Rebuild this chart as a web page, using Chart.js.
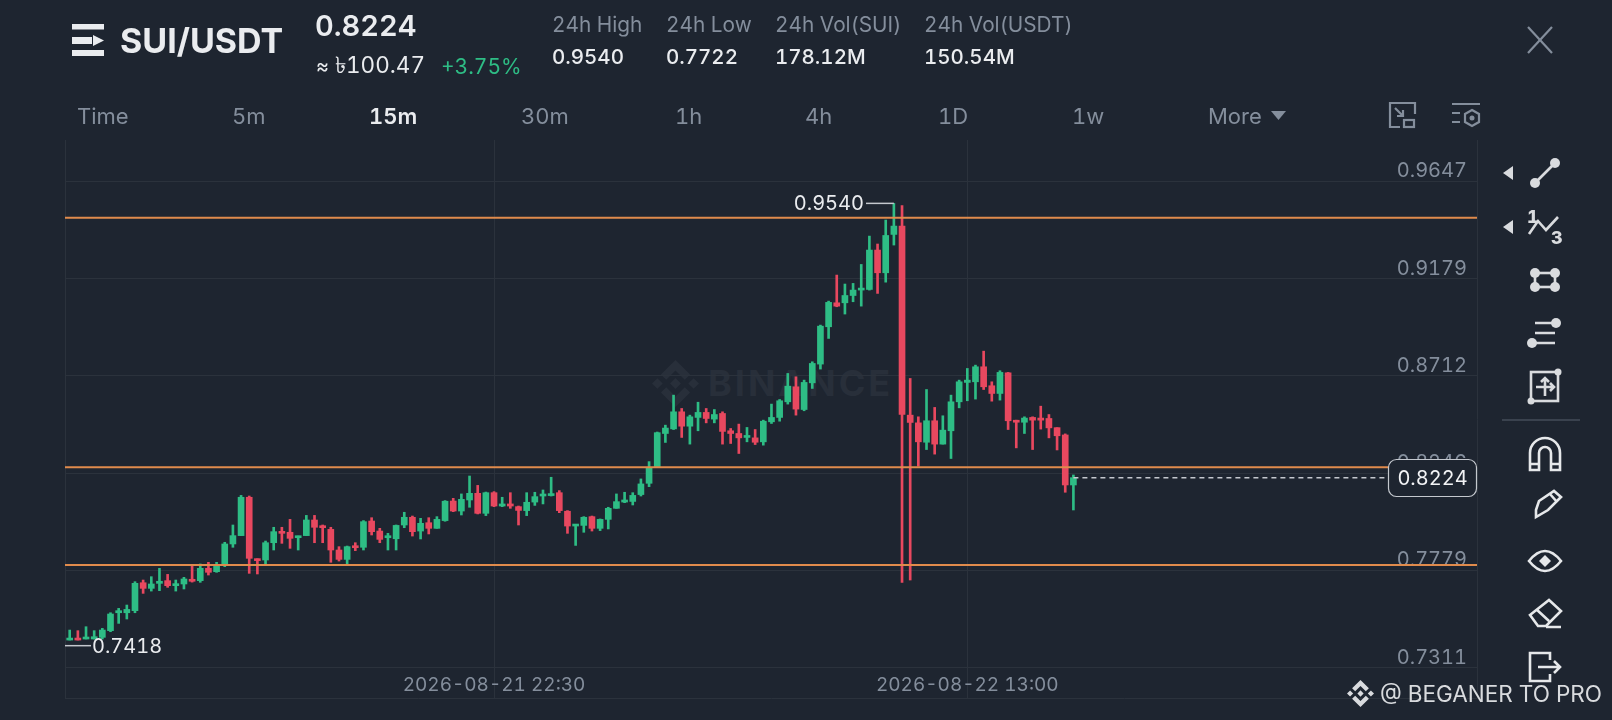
<!DOCTYPE html>
<html>
<head>
<meta charset="utf-8">
<title>SUI/USDT</title>
<script src="https://cdn.jsdelivr.net/npm/chart.js@4"></script>
<style>
  html, body { margin: 0; padding: 0; background: #1e2530; }
  body { width: 1612px; height: 720px; overflow: hidden; position: relative; font-family: Inter, "Noto Sans", "DejaVu Sans", sans-serif; font-variant-numeric: tabular-nums; }
  canvas { position: absolute; left: 0; top: 0; }
  .t { position: absolute; white-space: nowrap; line-height: 1; transform: translateY(-50%); }
  .gray { color: #848e9c; font-size: 20.8px; }
  .tab { color: #848e9c; font-size: 22px; }
  .white { color: #eaecef; font-size: 20.5px; font-weight: 500; }
  svg.layer { position: absolute; left: 0; top: 0; pointer-events: none; }
</style>
</head>
<body>
<svg class="layer" width="1612" height="720">
  <symbol id="bnb" viewBox="0 0 126 126">
    <path d="M38.2 53 63 28.2 87.8 53l14.4-14.4L63 0 23.8 38.6zM0 63l14.4-14.4L28.8 63 14.4 77.4zM38.2 73 63 97.8 87.8 73l14.4 14.4L63 126 23.8 87.4zM97.2 63l14.4-14.4L126 63l-14.4 14.4zM77.6 63 63 48.4 52.2 59.2 50.9 60.5 48.4 63 63 77.6z"/>
  </symbol>
  <use href="#bnb" x="652" y="360" width="47" height="47" fill="#282f3a"/>
  <text x="708" y="396" font-family="Inter" font-weight="700" font-size="36" letter-spacing="3" fill="#282f3a">BINANCE</text>
</svg>

<canvas id="myChart" width="1612" height="720"></canvas>

<div class="t" style="left:120px;top:41px;font-size:34px;font-weight:700;color:#eaecef">SUI/USDT</div>
<div class="t" style="left:315px;top:25px;font-size:29px;font-weight:600;color:#eaecef">0.8224</div>
<div class="t" style="left:316px;top:65px;font-size:22.5px;color:#eaecef"><span style="font-size:20px">≈</span> ৳100.47</div>
<div class="t" style="left:441px;top:66px;font-size:21px;color:#2ebd85">+3.75%</div>

<div class="t gray" style="left:552px;top:25px">24h High</div>
<div class="t gray" style="left:666px;top:25px">24h Low</div>
<div class="t gray" style="left:775px;top:25px">24h Vol(SUI)</div>
<div class="t gray" style="left:924px;top:25px">24h Vol(USDT)</div>
<div class="t white" style="left:552px;top:57px">0.9540</div>
<div class="t white" style="left:666px;top:57px">0.7722</div>
<div class="t white" style="left:775px;top:57px">178.12M</div>
<div class="t white" style="left:924px;top:57px">150.54M</div>

<div class="t tab" style="left:77px;top:116px">Time</div>
<div class="t tab" style="left:232px;top:116px">5m</div>
<div class="t" style="left:369px;top:116px;font-size:22px;font-weight:600;color:#eaecef">15m</div>
<div class="t tab" style="left:521px;top:116px">30m</div>
<div class="t tab" style="left:675px;top:116px">1h</div>
<div class="t tab" style="left:805px;top:116px">4h</div>
<div class="t tab" style="left:938px;top:116px">1D</div>
<div class="t tab" style="left:1072px;top:116px">1w</div>
<div class="t tab" style="left:1208px;top:116px">More</div>

<div class="t" style="left:1380px;top:694px;font-size:22.5px;color:#d9dbde">@ BEGANER TO PRO</div>

<svg class="layer" width="1612" height="720">
  <g fill="#eaecef">
    <rect x="72" y="24" width="32" height="5.5"/>
    <rect x="72" y="37" width="20" height="7"/>
    <path d="M93 35 L104 40.5 L93 46 Z"/>
    <rect x="72" y="50" width="32" height="6"/>
  </g>
  <path d="M1271 111 H1286 L1278.5 120 Z" fill="#848e9c"/>
  <g fill="none" stroke="#848e9c" stroke-width="2.2">
    <path d="M1528 27 L1552 53"/><path d="M1552 27 L1528 53"/>
    <path d="M1400 127 H1390 V103 H1415 V114"/>
    <rect x="1404" y="120" width="10" height="7"/>
    <path d="M1395 108 L1403 116 M1403 110 V116 H1397"/>
    <path d="M1452 104 H1480 M1452 113 H1460 M1452 122 H1460"/>
    <path d="M1472 110 L1479 114 V122 L1472 126 L1465 122 V114 Z"/>
  </g>
  <circle cx="1472" cy="118" r="2.5" fill="#848e9c"/>
  <g fill="#d9dbde">
    <path d="M1513 166 V180 L1503 173 Z"/>
    <path d="M1513 220 V234 L1503 227 Z"/>
  </g>
  <g fill="none" stroke="#d9dbde" stroke-width="2.6">
    <path d="M1535 183 L1555 163"/>
    <path d="M1529 234 L1538 221 L1546 230 L1558 217"/>
    <rect x="1535" y="273" width="20" height="14"/>
    <path d="M1535 323 H1556 M1535 333 H1555 M1533 343 H1555"/>
    <rect x="1531" y="372" width="27" height="29"/>
    <path d="M1545 378 V396 M1536 387 H1554 M1541 382 L1545 378 L1549 382 M1550 383 L1554 387 L1550 391"/>
  </g>
  <g fill="#d9dbde">
    <circle cx="1535" cy="183" r="5"/><circle cx="1555" cy="163" r="5"/>
    <circle cx="1535" cy="273" r="5"/><circle cx="1555" cy="273" r="5"/>
    <circle cx="1535" cy="287" r="5"/><circle cx="1555" cy="287" r="5"/>
    <circle cx="1556" cy="323" r="5"/><circle cx="1532" cy="343" r="5"/>
    <circle cx="1558" cy="372" r="3.5"/><circle cx="1531" cy="401" r="3.5"/>
  </g>
  <text x="1527" y="223" font-family="Inter" font-weight="800" font-size="18" fill="#d9dbde">1</text>
  <text x="1551" y="244" font-family="Inter" font-weight="800" font-size="18" fill="#d9dbde">3</text>

  <path d="M1502 420 H1580" stroke="#3a424e" stroke-width="2"/>
  <g fill="none" stroke="#e6e8ea" stroke-width="2.6">
    <path d="M1530 470 V453 a15 15 0 0 1 30 0 V470 H1551 V453 a6 6 0 0 0 -12 0 V470 Z M1530 464 H1539 M1551 464 H1560"/>
    <path d="M1536 510 L1539 501 L1554 491 L1561 497 L1548 510 L1536 517 Z M1550 494 L1557 502"/>
    <path d="M1529 561 Q1545 541 1561 561 Q1545 581 1529 561 Z"/>
    <path d="M1530 615 L1549 600 L1561 611 L1546 626 H1538 Z M1536 609 L1549 621 M1546 627 H1561"/>
    <path d="M1550 660 V653 H1530 V681 H1550 V674 M1538 667 H1560 M1554 661 L1560 667 L1554 673"/>
  </g>
  <path d="M1545 555 L1551 561 L1545 567 L1539 561 Z" fill="#e6e8ea"/>
  <use href="#bnb" x="1347" y="680" width="27" height="27" fill="#d9dbde"/>
</svg>

<script>
const colors = {
  green: "#2ebd85",
  red: "#e8485f",
  grid: "#2b323c",
  label: "#848e9c",
  orange: "#e08b4c",
  bg: "#1e2530",
};

// 15m candles
const opens = [
  .7445,.7451,.7450,.7450,.7458,.7490,.7576,.7576,.7586,.7720,.7693,.7717,.7730,.7706,.7714,.7736,.7730,.7789,.7773,.7810,
  .7906,.7946,.8130,.7832,.7829,.7912,.7962,.7962,.7936,.7946,.8021,.7992,.7976,.7877,.7832,.7896,.7890,.8016,.7968,.7936,
  .7931,.7997,.8034,.7968,.8008,.7981,.8018,.8112,.8064,.8117,.8149,.8053,.8152,.8088,.8098,.8085,.8066,.8107,.8136,.8138,
  .8152,.8063,.7992,.7995,.8037,.7981,.8024,.8077,.8107,.8110,.8143,.8197,.8277,.8436,.8458,.8540,.8471,.8513,.8537,.8505,
  .8532,.8449,.8436,.8417,.8415,.8396,.8492,.8513,.8588,.8660,.8551,.8679,.8769,.8948,.9063,.9063,.9098,.9124,.9127,.9316,
  .9207,.9391,.9431,.8524,.8487,.8394,.8497,.8385,.8449,.8588,.8681,.8684,.8756,.8665,.8628,.8727,.8497,.8490,.8513,.8510,
  .8508,.8464,.8429,.8189,
];
const highs = [
  .7493,.7490,.7509,.7490,.7501,.7576,.7597,.7613,.7725,.7733,.7749,.7789,.7760,.7733,.7746,.7800,.7810,.7818,.7818,.7914,
  .7997,.8139,.8136,.7835,.7920,.7986,.7986,.8024,.7944,.8043,.8043,.7997,.7986,.7893,.7896,.7912,.8018,.8032,.7981,.7957,
  .7997,.8058,.8040,.8029,.8032,.8037,.8114,.8125,.8146,.8232,.8187,.8155,.8157,.8130,.8152,.8088,.8152,.8154,.8165,.8226,
  .8162,.8066,.8000,.8037,.8040,.8026,.8082,.8146,.8154,.8152,.8218,.8301,.8443,.8476,.8620,.8556,.8524,.8586,.8556,.8551,
  .8540,.8460,.8481,.8465,.8455,.8500,.8577,.8599,.8724,.8708,.8692,.8780,.8956,.9071,.9196,.9153,.9156,.9247,.9383,.9345,
  .9460,.9540,.9529,.8700,.8516,.8647,.8561,.8521,.8620,.8692,.8748,.8764,.8831,.8684,.8737,.8729,.8500,.8516,.8516,.8567,
  .8527,.8464,.8434,.8237,
];
const lows = [
  .7445,.7445,.7450,.7450,.7450,.7485,.7525,.7546,.7576,.7669,.7680,.7682,.7698,.7680,.7690,.7723,.7722,.7757,.7770,.7797,
  .7890,.7946,.7765,.7762,.7805,.7877,.7909,.7885,.7877,.7946,.7912,.7912,.7818,.7824,.7810,.7874,.7877,.7949,.7912,.7877,
  .7877,.7984,.7944,.7930,.7954,.7981,.8015,.8061,.8045,.8082,.8050,.8042,.8085,.8085,.8077,.7997,.8042,.8091,.8098,.8136,
  .8056,.7957,.7899,.7962,.7968,.7970,.7978,.8077,.8104,.8093,.8136,.8181,.8274,.8393,.8455,.8417,.8385,.8449,.8487,.8487,
  .8385,.8388,.8340,.8396,.8383,.8380,.8484,.8495,.8577,.8524,.8545,.8652,.8745,.8892,.9044,.9009,.9068,.9047,.9124,.9108,
  .9162,.9340,.7722,.7733,.8279,.8359,.8337,.8385,.8316,.8559,.8593,.8601,.8647,.8591,.8596,.8455,.8367,.8436,.8359,.8457,
  .8415,.8357,.8154,.8069,
];
const closes = [
  .7453,.7445,.7458,.7461,.7493,.7570,.7586,.7592,.7717,.7693,.7714,.7727,.7706,.7714,.7738,.7727,.7789,.7770,.7800,.7906,
  .7946,.8130,.7837,.7826,.7912,.7965,.7957,.7933,.7943,.8021,.7986,.7984,.7877,.7832,.7893,.7888,.8013,.7965,.7928,.7944,
  .7995,.8034,.7965,.8005,.7981,.8024,.8111,.8064,.8120,.8149,.8053,.8152,.8088,.8098,.8088,.8067,.8106,.8133,.8144,.8146,
  .8066,.7992,.7999,.8034,.7981,.8024,.8077,.8109,.8117,.8139,.8194,.8269,.8440,.8462,.8540,.8471,.8516,.8537,.8508,.8527,
  .8446,.8436,.8415,.8426,.8394,.8495,.8513,.8593,.8663,.8553,.8681,.8772,.8951,.9065,.9047,.9098,.9124,.9132,.9316,.9207,
  .9386,.9431,.8528,.8489,.8396,.8497,.8385,.8452,.8588,.8684,.8692,.8756,.8660,.8628,.8729,.8497,.8490,.8510,.8500,.8500,
  .8463,.8425,.8189,.8224,
];

const yTicks = [0.7311, 0.7779, 0.8246, 0.8712, 0.9179, 0.9647];
const dateTicks = [52, 110];
const dateLabels = ["2026-08-21 22:30", "2026-08-22 13:00"];
const levels = [0.9471, 0.8274, 0.7805];
const lastPrice = 0.8224;
const peak = { index: 101, price: 0.954 };
const bottom = { price: 0.7418 };

const xMin = -0.576;
const xMax = 172.46;

const candleColor = opens.map((o, i) => (closes[i] >= o ? colors.green : colors.red));

const wicks = highs.map((h, i) => ({ x: i, y: [lows[i], h] }));
const bodies = opens.map((o, i) => ({ x: i, y: [o, closes[i]] }));

const levelSets = levels.map((v) => ({
  type: "line",
  data: [{ x: xMin, y: v }, { x: xMax, y: v }],
  borderColor: colors.orange,
  borderWidth: 2,
  pointRadius: 0,
  order: 0,
}));

// price tag, dashed line and the high / low notes
const notes = {
  id: "notes",
  afterDatasetsDraw(chart) {
    const { ctx, scales, chartArea } = chart;
    const x = scales.x, y = scales.y;
    ctx.save();
    ctx.font = "20px Inter";
    ctx.textBaseline = "middle";

    ctx.strokeStyle = "#c4c8ce";
    ctx.lineWidth = 1.5;
    const py = y.getPixelForValue(peak.price);
    ctx.beginPath();
    ctx.moveTo(866, py);
    ctx.lineTo(x.getPixelForValue(peak.index), py);
    ctx.stroke();
    ctx.fillStyle = "#eaecef";
    ctx.textAlign = "right";
    ctx.fillText(peak.price.toFixed(4), 864, py + 1);

    const by = y.getPixelForValue(bottom.price);
    ctx.beginPath();
    ctx.moveTo(chartArea.left, by);
    ctx.lineTo(91, by);
    ctx.stroke();
    ctx.textAlign = "left";
    ctx.fillText(bottom.price.toFixed(4), 92, by + 1);

    const ly = y.getPixelForValue(lastPrice);
    ctx.strokeStyle = "#c4c8ce";
    ctx.setLineDash([5, 4]);
    ctx.beginPath();
    ctx.moveTo(x.getPixelForValue(opens.length - 1), ly);
    ctx.lineTo(1386, ly);
    ctx.stroke();
    ctx.setLineDash([]);

    ctx.beginPath();
    ctx.roundRect(1388.5, 459.5, 88, 37, 8);
    ctx.fillStyle = colors.bg;
    ctx.fill();
    ctx.strokeStyle = "#c4c8ce";
    ctx.lineWidth = 1.2;
    ctx.stroke();
    ctx.fillStyle = "#f2f3f5";
    ctx.textAlign = "center";
    ctx.fillText(lastPrice.toFixed(4), 1432.5, ly + 1);
    ctx.restore();
  },
};

const ctx = document.getElementById("myChart");
new Chart(ctx, {
  type: "bar",
  data: {
    datasets: [
      ...levelSets,
      { data: bodies, backgroundColor: candleColor, barThickness: 6, minBarLength: 2, grouped: false, order: 1 },
      { data: wicks, backgroundColor: candleColor, barThickness: 2, grouped: false, order: 2 },
    ],
  },
  options: {
    responsive: false,
    animation: false,
    layout: { padding: { left: 65, right: 135, top: 140, bottom: 22 } },
    plugins: { legend: { display: false }, tooltip: { enabled: false } },
    scales: {
      x: {
        type: "linear",
        min: xMin,
        max: xMax,
        offset: false,
        afterFit(scale) { scale.height = 0; },
        afterBuildTicks(scale) {
          scale.ticks = [xMin, ...dateTicks].map((v) => ({ value: v }));
        },
        grid: { color: colors.grid, offset: false, drawTicks: false },
        border: { color: colors.grid },
        ticks: {
          mirror: true,
          padding: 1,
          maxRotation: 0,
          autoSkip: false,
          color: colors.label,
          font: { family: "Inter", size: 19 },
          callback(v) {
            const i = dateTicks.indexOf(v);
            return i < 0 ? "" : dateLabels[i];
          },
        },
      },
      y: {
        position: "right",
        min: 0.7167,
        max: 0.9844,
        afterFit(scale) { scale.width = 0; },
        afterBuildTicks(scale) {
          scale.ticks = yTicks.map((v) => ({ value: v }));
        },
        grid: { color: colors.grid, drawTicks: false },
        border: { color: colors.grid },
        ticks: {
          mirror: true,
          padding: -10,
          labelOffset: -10,
          color: colors.label,
          font: { family: "Inter", size: 20 },
          callback(v) { return v.toFixed(4); },
        },
      },
    },
  },
  plugins: [notes],
});
</script>
</body>
</html>
